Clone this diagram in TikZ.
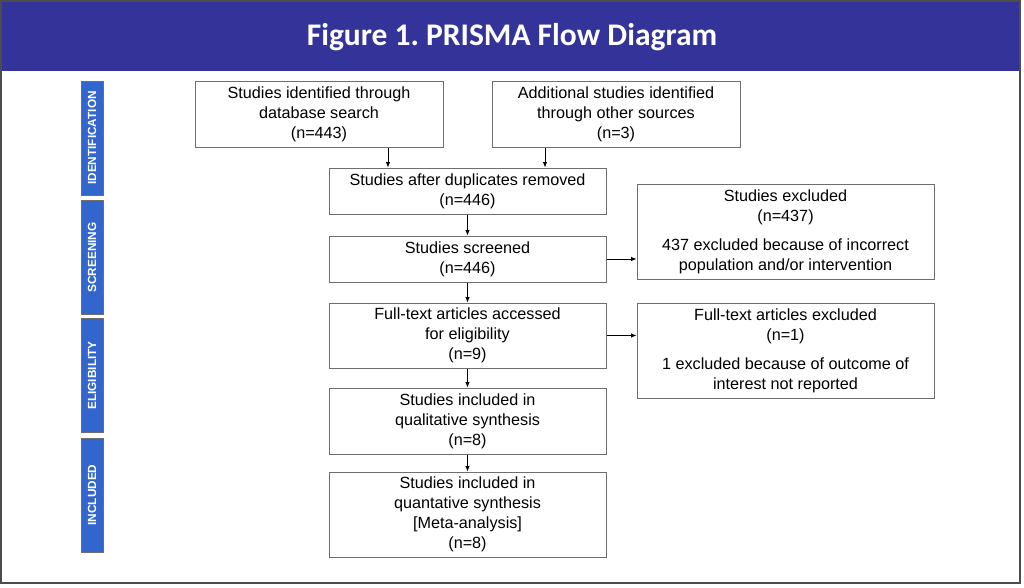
\documentclass[tikz,border=0pt]{standalone}
\usepackage{fontspec}
\setmainfont{Liberation Sans}
\newfontfamily\titlefont{Carlito}
\usetikzlibrary{arrows.meta}
\frenchspacing

\definecolor{bandblue}{RGB}{51,51,153}
\definecolor{stageblue}{RGB}{51,102,204}
\definecolor{boxgray}{RGB}{110,110,110}

\tikzset{
    flowbox/.style={draw=boxgray, line width=1pt, fill=white, align=center,
        inner sep=2pt, font=\fontsize{16.2}{20}\selectfont},
    stagebox/.style={draw=boxgray, line width=1pt, fill=stageblue, text=white,
        rotate=90, minimum width=114pt, minimum height=22pt, inner sep=0pt,
        font=\fontsize{11.8}{13}\selectfont\bfseries},
    arr/.style={-{Latex[length=5.5pt,width=4.5pt]}, line width=0.8pt, black}
}

\begin{document}
\begin{tikzpicture}[x=1pt, y=-1pt]
        \useasboundingbox (0,0) rectangle (1024,587);

        % Title band and outer frame
        \fill[bandblue] (0,0) rectangle (1020,71);
        \draw[gray!60!black, line width=2pt] (1,1) rectangle (1020,583);
        \node[text=white, font=\titlefont\fontsize{31.5}{34}\selectfont\bfseries] (title) at (512,37) {Figure 1. PRISMA Flow Diagram};

        % Stage labels on the left
        \node[stagebox] (stIdent) at (92,138) {IDENTIFICATION};
        \node[stagebox] (stScreen) at (92,257.5) {SCREENING};
        \node[stagebox] (stElig) at (92,375.5) {ELIGIBILITY};
        \node[stagebox] (stIncl) at (92,495) {INCLUDED};

        % Identification
        \node[flowbox, minimum width=248pt, minimum height=66pt] (idDb) at (319,114)
            {Studies identified through\\database search\\(n=443)};
        \node[flowbox, minimum width=248pt, minimum height=66pt] (idOther) at (616,114)
            {Additional studies identified\\through other sources\\(n=3)};

        % Screening
        \node[flowbox, minimum width=277pt, minimum height=46pt] (dedup) at (467.5,191)
            {Studies after duplicates removed\\(n=446)};
        \node[flowbox, minimum width=277pt, minimum height=46pt] (screened) at (467.5,259)
            {Studies screened\\(n=446)};
        \node[flowbox, minimum width=297pt, minimum height=95pt] (excl) at (785.5,231.5)
            {Studies excluded\\(n=437)\\[9pt]437 excluded because of incorrect\\population and/or intervention};

        % Eligibility
        \node[flowbox, minimum width=277pt, minimum height=65pt] (fulltext) at (467.5,335.5)
            {Full-text articles accessed\\for eligibility\\(n=9)};
        \node[flowbox, minimum width=297pt, minimum height=95pt] (ftExcl) at (785.5,350.5)
            {Full-text articles excluded\\(n=1)\\[9pt]1 excluded because of outcome of\\interest not reported};

        % Included
        \node[flowbox, minimum width=277pt, minimum height=66pt] (qual) at (467.5,421)
            {Studies included in\\qualitative synthesis\\(n=8)};
        \node[flowbox, minimum width=277pt, minimum height=85pt] (quant) at (467.5,514.5)
            {Studies included in\\quantative synthesis\\{[Meta-analysis]}\\(n=8)};

        % Connectors
        \draw[arr] ([xshift=69pt]idDb.south) -- ([xshift=69pt]idDb.south |- dedup.north);
        \draw[arr] ([xshift=-71pt]idOther.south) -- ([xshift=-71pt]idOther.south |- dedup.north);
        \draw[arr] (dedup) -- (screened);
        \draw[arr] (screened) -- (fulltext);
        \draw[arr] (fulltext) -- (qual);
        \draw[arr] (qual) -- (quant);
        \draw[arr] (screened.east) -- (screened.east -| excl.west);
        \draw[arr] (fulltext.east) -- (fulltext.east -| ftExcl.west);
    \end{tikzpicture}
\end{document}
